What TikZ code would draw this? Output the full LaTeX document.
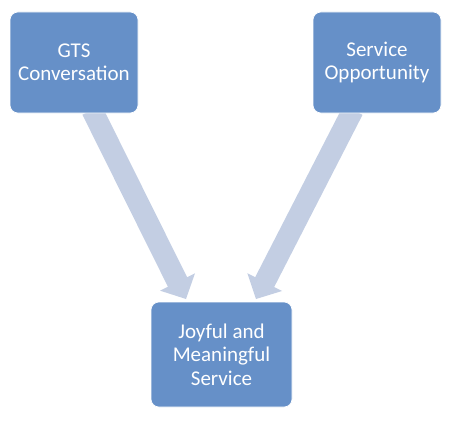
\documentclass[tikz,border=0pt]{standalone}
\usepackage{fontspec}
\setmainfont{Carlito}
\usetikzlibrary{calc}
\definecolor{boxblue}{HTML}{6690C8}
\definecolor{arrowblue}{HTML}{C3CEE3}
\tikzset{
  box/.style={draw=white, line width=0.6pt, fill=boxblue, rounded corners=8pt, text=white,
    font=\fontsize{21}{23.5}\selectfont, align=center, inner sep=0pt},
}
% block arrow: #1 start, #2 tip
\newcommand{\blockarrow}[2]{%
  \path let \p1=(#1), \p2=(#2), \n1={atan2(\y2-\y1,\x2-\x1)} in
    [fill=arrowblue, shift={(\p2)}, rotate=\n1]
    (0,0) -- (-19,19.5) -- (-19,10.7) -- ({-veclen(\x2-\x1,\y2-\y1)},10.7)
    -- ({-veclen(\x2-\x1,\y2-\y1)},-10.7) -- (-19,-10.7) -- (-19,-19.5) -- cycle;
}
\begin{document}
\begin{tikzpicture}[x=1pt,y=-1pt]
\useasboundingbox (0,0) rectangle (452,420);
\coordinate (s1) at (92,110);
\coordinate (t1) at (186,299);
\coordinate (s2) at (353,110);
\coordinate (t2) at (256,299);
\blockarrow{s1}{t1}
\blockarrow{s2}{t2}
\node[box, minimum width=128pt, minimum height=101pt] (gts) at (74,62.5) {GTS\\Conversation};
\node[box, minimum width=128pt, minimum height=101pt] (so) at (377,62.5) {Service\\Opportunity};
\node[box, minimum width=141pt, minimum height=105pt] (jms) at (221.5,354.5) {Joyful and\\Meaningful\\Service};
\end{tikzpicture}
\end{document}
